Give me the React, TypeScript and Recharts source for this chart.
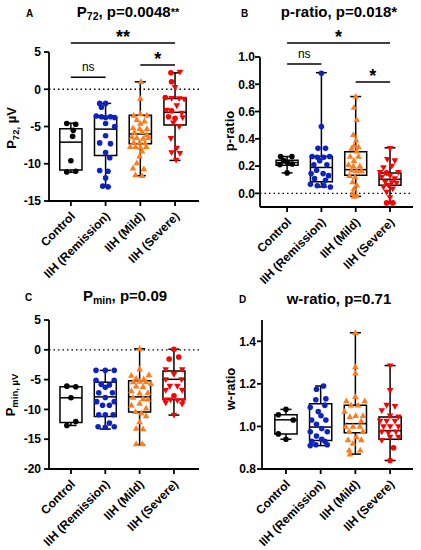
import React from 'react'
import { ComposedChart, XAxis, YAxis, Scatter, ReferenceArea, ReferenceLine } from 'recharts'

// [value, horizontal jitter in category units]
type Pt = [number, number]
// [min, q1, median, q3, max]
type Box = [number, number, number, number, number]

const groupNames = ['Control', 'IIH (Remission)', 'IIH (Mild)', 'IIH (Severe)']
const colors = ['#000000', '#0d22c2', '#ff7b1c', '#ff0000']

// ---- A: P72
const aControl: Pt[] = [[-4.6, -0.12], [-4.7, 0.14], [-5.5, 0.07], [-6.3, 0.05], [-9.6, 0], [-11.1, -0.12], [-11.0, 0.14]]
const aRemission: Pt[] = [[-1.9, -0.17], [-1.9, 0], [-2.4, -0.12], [-3.6, -0.27], [-3.7, -0.12], [-3.8, 0], [-3.7, 0.14], [-3.8, 0.26], [-4.6, 0], [-5.0, 0.26], [-6.25, 0], [-7.2, -0.17], [-7.3, 0.14], [-8.5, 0], [-9.2, 0.12], [-10.9, -0.17], [-11.0, 0.07], [-11.9, 0], [-13.0, -0.08], [-13.1, 0.07]]
const aMild: Pt[] = [[1.0, 0.02], [-1.25, 0], [-3.3, 0], [-3.5, -0.19], [-3.5, 0.19], [-4.1, -0.1], [-4.3, 0.12], [-4.6, 0], [-5.2, -0.21], [-5.3, -0.02], [-5.3, 0.19], [-5.8, -0.17], [-5.7, 0.05], [-6.1, 0.19], [-6.4, -0.24], [-6.5, -0.1], [-6.6, 0.08], [-6.5, 0.24], [-7.1, -0.19], [-7.1, -0.02], [-7.2, 0.14], [-7.7, -0.29], [-7.7, -0.14], [-7.8, 0], [-7.7, 0.17], [-8.3, 0.05], [-9.0, -0.02], [-9.9, -0.1], [-10.6, -0.21], [-10.7, 0.1], [-11.5, -0.14], [-11.6, 0.05]]
const aSevere: Pt[] = [[2.3, 0.14], [0.25, 0], [-1.2, -0.1], [-1.25, 0.12], [-1.3, 0.26], [-2.2, 0.05], [-2.8, -0.24], [-3.2, 0.19], [-3.8, 0.22], [-4.5, -0.05], [-5.0, 0.12], [-6.6, -0.12], [-7.9, 0.05], [-8.5, -0.1], [-8.6, 0.14], [-9.5, 0.03]]
const aSevereDots: Pt[] = [[2.2, -0.12], [1.0, -0.1], [-1.1, -0.28], [-2.9, -0.1], [-3.7, -0.19], [-3.9, 0]]
const aBoxes: Box[] = [[-11.15, -10.85, -7.1, -5.3, -4.55], [-13.1, -8.9, -5.35, -3.75, -1.9], [-11.6, -7.3, -6.0, -3.5, 1.0], [-9.55, -4.8, -3.1, -1.25, 2.2]]

// ---- B: p-ratio
const bControl: Pt[] = [[0.27, -0.19], [0.27, 0.14], [0.24, -0.1], [0.225, 0.02], [0.215, 0.15], [0.21, -0.21], [0.15, 0]]
const bRemission: Pt[] = [[0.88, 0], [0.49, 0], [0.33, -0.1], [0.33, 0.12], [0.27, -0.27], [0.265, -0.12], [0.265, 0.07], [0.27, 0.24], [0.24, -0.05], [0.21, -0.22], [0.21, 0.16], [0.17, -0.14], [0.145, -0.3], [0.145, 0.05], [0.13, 0.21], [0.108, -0.2], [0.096, 0.12], [0.066, -0.32], [0.056, -0.12], [0.058, 0.07], [0.047, 0.26]]
const bMild: Pt[] = [[0.71, 0], [0.63, -0.05], [0.54, 0.03], [0.43, -0.07], [0.39, 0.01], [0.35, -0.05], [0.34, 0.08], [0.33, -0.12], [0.31, 0.03], [0.27, -0.16], [0.27, 0.08], [0.24, -0.05], [0.21, -0.21], [0.2, -0.07], [0.2, 0.12], [0.17, -0.12], [0.165, 0.03], [0.165, 0.17], [0.13, -0.18], [0.12, -0.02], [0.083, -0.09], [0.06, 0.03], [0.034, -0.05], [0.0, -0.09], [-0.015, 0.03], [-0.022, -0.05]]
const bSevere: Pt[] = [[0.33, 0], [0.25, -0.08], [0.24, 0.14], [0.19, -0.19], [0.2, 0.05], [0.155, -0.29], [0.155, 0.24], [0.13, 0], [0.12, -0.24], [0.108, 0.14], [0.084, -0.14], [0.08, 0.05], [0.076, 0.19], [0.06, -0.05], [0.047, -0.19], [0.034, 0.08], [0.01, -0.1], [-0.03, 0]]
const bSevereDots: Pt[] = [[0.15, -0.1], [-0.07, -0.1], [-0.07, 0.08]]
const bBoxes: Box[] = [[0.15, 0.206, 0.226, 0.243, 0.27], [0.047, 0.085, 0.19, 0.27, 0.885], [-0.022, 0.133, 0.174, 0.305, 0.71], [-0.07, 0.06, 0.103, 0.15, 0.334]]

// ---- C: Pmin
const cControl: Pt[] = [[-6.1, -0.12], [-6.2, 0.14], [-8.05, 0], [-12.05, 0.14], [-12.7, -0.12]]
const cRemission: Pt[] = [[-3.45, -0.27], [-3.45, 0], [-3.45, 0.26], [-5.1, -0.27], [-5.1, 0.26], [-5.8, -0.12], [-5.9, 0.12], [-6.3, 0], [-7.2, -0.19], [-7.2, 0.21], [-8.0, 0], [-8.7, -0.25], [-8.7, 0.26], [-9.3, -0.08], [-9.3, 0.12], [-10.9, -0.19], [-10.9, 0], [-10.9, 0.23], [-12.3, 0.12], [-12.9, -0.21], [-13.0, 0], [-12.9, 0.26]]
const cMild: Pt[] = [[0.2, 0], [-3.2, 0], [-4.3, -0.24], [-4.2, 0.27], [-4.8, -0.1], [-4.9, 0.12], [-5.4, -0.19], [-5.3, 0], [-5.4, 0.19], [-5.7, 0.33], [-6.1, -0.1], [-6.2, 0.1], [-6.9, -0.24], [-7.3, 0], [-7.2, 0.24], [-8.0, -0.19], [-8.2, 0.1], [-8.3, 0.24], [-9.3, -0.24], [-9.0, 0], [-9.8, 0.19], [-10.4, -0.12], [-10.6, 0.05], [-11.1, 0.19], [-12.1, 0], [-13.2, -0.1], [-13.3, 0.1], [-15.8, -0.1], [-15.8, 0.08]]
const cSevere: Pt[] = [[-3.3, -0.24], [-3.3, 0.24], [-4.1, 0], [-5.0, -0.24], [-5.0, 0.22], [-6.1, -0.12], [-6.1, 0.1], [-6.8, -0.24], [-6.8, 0.24], [-8.4, -0.26], [-8.4, -0.1], [-8.5, 0.1], [-8.5, 0.26], [-8.9, -0.24], [-9.1, 0.24], [-10.95, 0]]
const cSevereDots: Pt[] = [[0.1, 0], [-1.55, -0.14], [-1.2, 0.14], [-7.7, 0]]
const cBoxes: Box[] = [[-12.7, -12.2, -8.05, -6.2, -6.1], [-13.3, -11.2, -7.9, -5.45, -3.45], [-15.95, -10.45, -7.9, -5.2, 0.17], [-10.95, -8.35, -4.95, -3.55, 0.1]]

// ---- D: w-ratio
const dControl: Pt[] = [[1.08, 0], [1.055, -0.22], [1.03, 0.21], [0.965, -0.22], [0.94, 0]]
const dRemission: Pt[] = [[1.19, 0.08], [1.175, -0.12], [1.125, -0.14], [1.13, 0.15], [1.1, 0.12], [1.09, -0.3], [1.07, -0.07], [1.05, 0.01], [1.03, -0.26], [1.03, 0.15], [1.01, -0.12], [0.99, 0.03], [0.975, -0.3], [0.975, 0.19], [0.955, -0.12], [0.94, 0.03], [0.93, -0.26], [0.93, 0.12], [0.914, -0.14], [0.914, 0.19], [0.91, -0.3]]
const dMild: Pt[] = [[1.44, 0], [1.28, 0], [1.25, 0], [1.14, 0], [1.12, -0.26], [1.12, 0.27], [1.1, -0.12], [1.1, 0.08], [1.07, -0.31], [1.05, 0.01], [1.05, 0.22], [1.045, -0.16], [1.025, 0.17], [1.0, -0.28], [1.0, -0.07], [1.0, 0.13], [0.976, -0.18], [0.976, 0.22], [0.95, 0.03], [0.937, -0.21], [0.937, 0.17], [0.92, -0.07], [0.888, -0.18], [0.888, 0.14], [0.87, -0.16]]
const dSevere: Pt[] = [[1.285, 0], [1.17, 0], [1.1, -0.1], [1.095, 0.14], [1.075, -0.24], [1.05, 0], [1.045, 0.24], [1.025, -0.29], [1.025, -0.1], [1.025, 0.14], [1.0, -0.19], [1.0, 0], [1.0, 0.24], [0.975, -0.24], [0.97, -0.05], [0.975, 0.17], [0.95, 0], [0.95, 0.24], [0.935, -0.24]]
const dSevereDots: Pt[] = [[0.9, 0.1], [0.84, 0]]
const dBoxes: Box[] = [[0.94, 0.964, 1.031, 1.055, 1.08], [0.91, 0.934, 0.997, 1.107, 1.19], [0.87, 0.97, 1.013, 1.1, 1.44], [0.84, 0.94, 0.98, 1.044, 1.286]]

// significance bars: [from group, to group, y value, label]
const aSig: [number, number, number, string][] = [[0, 3, 6.2, '**'], [2, 3, 3.26, '*'], [0, 1, 1.6, 'ns']]
const bSig: [number, number, number, string][] = [[0, 3, 1.103, '*'], [0, 1, 0.949, 'ns'], [2, 3, 0.816, '*']]

const FONT = '"Liberation Sans", Arial, sans-serif'

type Series = { pts: Pt[]; group: number; kind: 'dot' | 'up' | 'down' }

function marker(kind: string, color: string) {
  return (p: any) => {
    const { cx, cy } = p
    if (cx == null || cy == null) return <g />
    if (kind === 'up')
      return <polygon points={`${cx},${cy - 3.5} ${cx - 3.3},${cy + 2.3} ${cx + 3.3},${cy + 2.3}`} fill={color} />
    if (kind === 'down')
      return <polygon points={`${cx},${cy + 3.5} ${cx - 3.3},${cy - 2.3} ${cx + 3.3},${cy - 2.3}`} fill={color} />
    return <circle cx={cx} cy={cy} r={2.8} fill={color} />
  }
}

const XTick = (props: any) => {
  const { x, y, payload } = props
  return (
    <g transform={`translate(${x + 5},${y + 9})`}>
      <text transform="rotate(-45)" textAnchor="end" fontFamily={FONT} fontWeight="bold" fontSize={12} fill="#000">
        {groupNames[payload.value]}
      </text>
    </g>
  )
}

interface PanelProps {
  left: number
  top: number
  width: number
  height: number
  marginTop: number
  marginRight: number
  yWidth: number
  xHeight: number
  xDomain: [number, number]
  yDomain: [number, number]
  yTicks: number[]
  yTickGap: number
  decimals: number
  series: Series[]
  boxes: Box[]
  sig?: [number, number, number, string][]
  zeroLine?: boolean
}

function Panel(p: PanelProps) {
  const axisStyle = { stroke: '#000', strokeWidth: 1.8 }
  return (
    <div style={{ position: 'absolute', left: p.left, top: p.top }}>
      <ComposedChart
        width={p.width}
        height={p.height}
        margin={{ top: p.marginTop, right: p.marginRight, left: 0, bottom: 0 }}
        style={{ overflow: 'visible' }}
      >
        <XAxis
          type="number"
          dataKey="x"
          domain={p.xDomain}
          allowDataOverflow
          ticks={[0, 1, 2, 3]}
          height={p.xHeight}
          axisLine={axisStyle}
          tickLine={axisStyle}
          tickSize={5}
          tickMargin={2}
          tick={<XTick />}
          interval={0}
        />
        <YAxis
          type="number"
          dataKey="y"
          domain={p.yDomain}
          allowDataOverflow
          ticks={p.yTicks}
          width={p.yWidth}
          axisLine={axisStyle}
          tickLine={axisStyle}
          tickSize={5}
          tickMargin={p.yTickGap}
          interval={0}
          tickFormatter={(v: number) => v.toFixed(p.decimals)}
          tick={{ fill: '#000', fontSize: 12, fontWeight: 'bold', fontFamily: FONT }}
        />
        {p.zeroLine && (
          <ReferenceLine y={0} stroke="#000" strokeWidth={1.3} strokeDasharray="1.5 3" />
        )}
        {p.boxes.map((b, i) => (
          <ReferenceArea
            key={`box${i}`}
            x1={i - 0.32}
            x2={i + 0.32}
            y1={b[1]}
            y2={b[3]}
            fill="#fff"
            fillOpacity={0}
            stroke="#000"
            strokeWidth={1.5}
            ifOverflow="visible"
          />
        ))}
        {p.boxes.flatMap((b, i) => [
          <ReferenceLine key={`lw${i}`} segment={[{ x: i, y: b[0] }, { x: i, y: b[1] }]} stroke="#000" strokeWidth={1.5} ifOverflow="visible" />,
          <ReferenceLine key={`uw${i}`} segment={[{ x: i, y: b[3] }, { x: i, y: b[4] }]} stroke="#000" strokeWidth={1.5} ifOverflow="visible" />,
          <ReferenceLine key={`lc${i}`} segment={[{ x: i - 0.16, y: b[0] }, { x: i + 0.16, y: b[0] }]} stroke="#000" strokeWidth={1.5} ifOverflow="visible" />,
          <ReferenceLine key={`uc${i}`} segment={[{ x: i - 0.16, y: b[4] }, { x: i + 0.16, y: b[4] }]} stroke="#000" strokeWidth={1.5} ifOverflow="visible" />,
          <ReferenceLine key={`md${i}`} segment={[{ x: i - 0.32, y: b[2] }, { x: i + 0.32, y: b[2] }]} stroke="#000" strokeWidth={1.5} ifOverflow="visible" />,
        ])}
        {p.series.map((s, i) => (
          <Scatter
            key={`s${i}`}
            data={s.pts.map(([v, dx]) => ({ x: s.group + dx, y: v }))}
            shape={marker(s.kind, colors[s.group])}
            isAnimationActive={false}
          />
        ))}
        {(p.sig || []).map(([g1, g2, y, label], i) => (
          <ReferenceLine
            key={`sig${i}`}
            segment={[{ x: g1, y }, { x: g2, y }]}
            stroke="#000"
            strokeWidth={1.5}
            ifOverflow="visible"
            label={{
              value: label,
              position: 'top',
              offset: label === 'ns' ? 6 : 0,
              fill: '#000',
              fontFamily: FONT,
              fontSize: label === 'ns' ? 12 : 18,
              fontWeight: label === 'ns' ? 'normal' : 'bold',
            }}
          />
        ))}
      </ComposedChart>
    </div>
  )
}

export default function App() {
  const T = { fontFamily: FONT, fontWeight: 'bold' as const, fill: '#000' }
  return (
    <div style={{ position: 'absolute', left: 0, top: 0, width: 421, height: 550, background: '#fff' }}>
      <Panel
        left={0} top={0} width={210} height={290}
        marginTop={52} marginRight={11} yWidth={49} xHeight={89}
        xDomain={[-0.63, 3.69]} yDomain={[-15, 5]} yTicks={[-15, -10, -5, 0, 5]} yTickGap={3} decimals={0}
        series={[
          { pts: aControl, group: 0, kind: 'dot' },
          { pts: aRemission, group: 1, kind: 'dot' },
          { pts: aMild, group: 2, kind: 'up' },
          { pts: aSevere, group: 3, kind: 'down' },
          { pts: aSevereDots, group: 3, kind: 'dot' },
        ]}
        boxes={aBoxes}
        sig={aSig}
        zeroLine
      />
      <Panel
        left={210} top={0} width={211} height={295}
        marginTop={57} marginRight={8} yWidth={50} xHeight={88}
        xDomain={[-0.79, 3.67]} yDomain={[-0.1, 1.0]} yTicks={[0, 0.2, 0.4, 0.6, 0.8, 1.0]} yTickGap={0} decimals={1}
        series={[
          { pts: bControl, group: 0, kind: 'dot' },
          { pts: bRemission, group: 1, kind: 'dot' },
          { pts: bMild, group: 2, kind: 'up' },
          { pts: bSevere, group: 3, kind: 'down' },
          { pts: bSevereDots, group: 3, kind: 'dot' },
        ]}
        boxes={bBoxes}
        sig={bSig}
        zeroLine
      />
      <Panel
        left={0} top={280} width={210} height={270}
        marginTop={40} marginRight={11} yWidth={49} xHeight={81}
        xDomain={[-0.64, 3.73]} yDomain={[-20, 5]} yTicks={[-20, -15, -10, -5, 0, 5]} yTickGap={3} decimals={0}
        series={[
          { pts: cControl, group: 0, kind: 'dot' },
          { pts: cRemission, group: 1, kind: 'dot' },
          { pts: cMild, group: 2, kind: 'up' },
          { pts: cSevere, group: 3, kind: 'down' },
          { pts: cSevereDots, group: 3, kind: 'dot' },
        ]}
        boxes={cBoxes}
        zeroLine
      />
      <Panel
        left={210} top={280} width={211} height={270}
        marginTop={40} marginRight={8} yWidth={52} xHeight={81}
        xDomain={[-0.69, 3.66]} yDomain={[0.8, 1.5]} yTicks={[0.8, 1.0, 1.2, 1.4]} yTickGap={1} decimals={1}
        series={[
          { pts: dControl, group: 0, kind: 'dot' },
          { pts: dRemission, group: 1, kind: 'dot' },
          { pts: dMild, group: 2, kind: 'up' },
          { pts: dSevere, group: 3, kind: 'down' },
          { pts: dSevereDots, group: 3, kind: 'dot' },
        ]}
        boxes={dBoxes}
      />
      <svg width={421} height={550} style={{ position: 'absolute', left: 0, top: 0, pointerEvents: 'none' }}>
        {/* panel letters */}
        <text x={26} y={17} {...T} fontSize={10}>A</text>
        <text x={241} y={17} {...T} fontSize={10}>B</text>
        <text x={25} y={301} {...T} fontSize={10}>C</text>
        <text x={239} y={303} {...T} fontSize={10}>D</text>
        {/* titles */}
        <text x={128} y={17} {...T} fontSize={15} textAnchor="middle">
          P<tspan fontSize={10.5} dy={3}>72</tspan><tspan dy={-3}>, p=0.0048</tspan><tspan fontSize={11} dy={-1}>**</tspan>
        </text>
        <text x={339} y={17} {...T} fontSize={15} textAnchor="middle">p-ratio, p=0.018*</text>
        <text x={125} y={301} {...T} fontSize={15} textAnchor="middle">
          P<tspan fontSize={10.5} dy={3}>min</tspan><tspan dy={-3}>, p=0.09</tspan>
        </text>
        <text x={339} y={304} {...T} fontSize={15} textAnchor="middle">w-ratio, p=0.71</text>
        {/* y-axis labels */}
        <text transform="translate(16,128) rotate(-90)" {...T} fontSize={13} textAnchor="middle">
          P<tspan fontSize={9.5} dy={2.5}>72,</tspan><tspan dy={-2.5}> µV</tspan>
        </text>
        <text transform="translate(234,131) rotate(-90)" {...T} fontSize={13} textAnchor="middle">p-ratio</text>
        <text transform="translate(15,395) rotate(-90)" {...T} fontSize={13} textAnchor="middle">
          P<tspan fontSize={9.5} dy={2.5}>min, µV</tspan>
        </text>
        <text transform="translate(235,389) rotate(-90)" {...T} fontSize={13} textAnchor="middle">w-ratio</text>
      </svg>
    </div>
  )
}
